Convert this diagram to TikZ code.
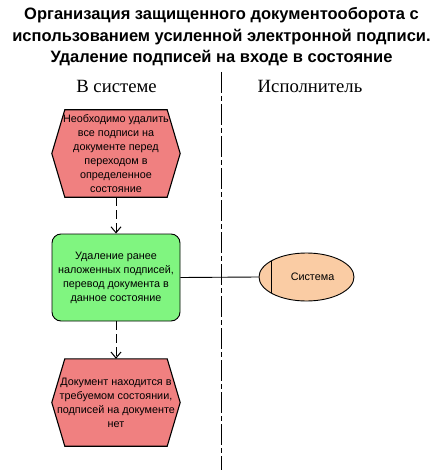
\documentclass[tikz,border=0pt]{standalone}
\usepackage{fontspec}
\setmainfont{Liberation Sans}
\newfontfamily\serifhead{Liberation Serif}
\usetikzlibrary{arrows.meta,shapes.geometric,calc}
\definecolor{evred}{RGB}{240,128,128}
\definecolor{fngreen}{RGB}{128,245,128}
\definecolor{orgpeach}{RGB}{250,204,164}
\tikzset{
  boxtext/.style={minimum width=128pt,minimum height=87pt,inner sep=0pt,align=center,
    font=\fontsize{10.8}{14}\selectfont},
  hexfill/.style={draw=black,line width=1.1pt,fill=evred,line join=miter},
  fnbox/.style={boxtext,draw=black,line width=0.9pt,fill=fngreen,rounded corners=9pt},
  orgunit/.style={ellipse,draw=black,line width=0.9pt,fill=orgpeach,minimum width=95pt,minimum height=48pt,inner sep=0pt},
  flow/.style={line width=1pt,dash pattern=on 9pt off 4pt,-{Straight Barb[length=6pt,width=10pt,line width=1pt]}},
  lanehead/.style={font=\serifhead\fontsize{18.7}{20}\selectfont,inner sep=0pt},
}
\begin{document}
\begin{tikzpicture}[x=1pt,y=-1pt]
\useasboundingbox (0,0) rectangle (443,470);
\node[font=\bfseries\fontsize{16.5}{21.5}\selectfont,align=center,inner sep=0pt] (title) at (221.5,37)
  {Организация защищенного документооборота с\\использованием усиленной электронной подписи.\\Удаление подписей на входе в состояние};
\node[lanehead] (lane1) at (116.5,86) {В системе};
\node[lanehead] (lane2) at (310,86) {Исполнитель};
\coordinate (divtop) at (221,72);
\coordinate (divbot) at (221,470);
\draw[line width=1pt,dash pattern=on 21pt off 3pt on 5pt off 3pt] (divtop) -- (divbot);
% event 1
\node[boxtext] (e1) at (116,153.5) {};
\path[hexfill] (e1.west) -- ($(e1.north west)+(13,0)$) -- ($(e1.north east)+(-13,0)$) -- (e1.east)
  -- ($(e1.south east)+(-13,0)$) -- ($(e1.south west)+(13,0)$) -- cycle;
\node[boxtext] at (e1.center) {Необходимо удалить\\все подписи на\\документе перед\\переходом в\\определенное\\состояние};
% function
\node[fnbox] (f1) at (116,277.5) {Удаление ранее\\наложенных подписей,\\перевод документа в\\данное состояние};
% event 2
\node[boxtext] (e2) at (116,402.5) {};
\path[hexfill] (e2.west) -- ($(e2.north west)+(13,0)$) -- ($(e2.north east)+(-13,0)$) -- (e2.east)
  -- ($(e2.south east)+(-13,0)$) -- ($(e2.south west)+(13,0)$) -- cycle;
\node[boxtext] at (e2.center) {Документ находится в\\требуемом состоянии,\\подписей на документе\\нет};
% org unit
\node[orgunit] (s1) at (306.5,277) {};
\draw[line width=0.9pt] ($(s1.center)+(-35.5,-16)$) -- ($(s1.center)+(-35.5,16)$);
\node[font=\fontsize{10.8}{14}\selectfont,inner sep=0pt] (s1t) at (312.5,277) {Система};
% connectors
\draw[flow] (e1.south) -- (f1.north);
\draw[flow] (f1.south) -- (e2.north);
\draw[line width=0.9pt] (f1.east) -- (s1.west);
\end{tikzpicture}
\end{document}
